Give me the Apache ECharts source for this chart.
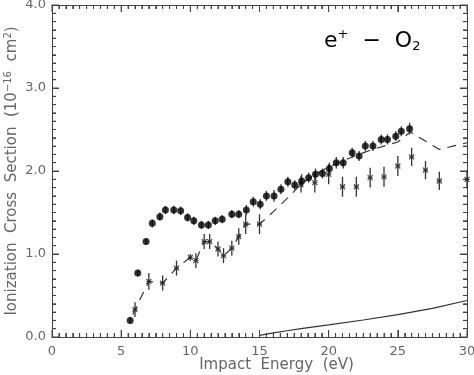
<!DOCTYPE html>
<html><head><meta charset="utf-8">
<script src="https://cdn.jsdelivr.net/npm/echarts@6/dist/echarts.min.js"></script>
<style>html,body{margin:0;padding:0;background:#fff}#c{width:474px;height:375px}</style>
</head><body><div id="c"></div>
<script>
// Filled circles (measured data)
const dotsX = [5.65,6.2,6.8,7.25,7.8,8.2,8.8,9.3,9.8,10.25,10.8,11.3,11.8,12.3,13.0,13.5,14.05,14.55,15.05,15.5,16.05,16.55,17.05,17.55,18.05,18.55,19.05,19.55,20.05,20.55,21.05,21.7,22.2,22.65,23.2,23.8,24.25,24.85,25.25,25.85];
const dotsY = [0.20,0.77,1.15,1.37,1.45,1.53,1.53,1.52,1.44,1.40,1.35,1.35,1.40,1.42,1.48,1.48,1.53,1.63,1.60,1.70,1.70,1.78,1.87,1.83,1.88,1.92,1.96,1.97,2.03,2.10,2.10,2.22,2.18,2.30,2.30,2.38,2.38,2.42,2.48,2.51];
const dotsErr = [0.04,0.04,0.04,0.05,0.05,0.05,0.05,0.05,0.05,0.05,0.05,0.05,0.05,0.05,0.05,0.05,0.06,0.06,0.06,0.06,0.07,0.06,0.06,0.06,0.08,0.06,0.07,0.06,0.07,0.07,0.07,0.06,0.06,0.06,0.06,0.06,0.06,0.06,0.06,0.07];
// Crosses with error bars
const crossX = [6,7,8,9,10,10.4,11,11.4,12,12.4,13,13.5,14,15,18,19,20,21,22,23,24,25,26,27,28,30];
const crossY = [0.33,0.67,0.65,0.83,0.96,0.92,1.15,1.15,1.06,0.98,1.07,1.21,1.36,1.36,1.84,1.86,1.96,1.81,1.81,1.92,1.93,2.06,2.17,2.01,1.88,1.90];
const crossErr = [0.09,0.1,0.09,0.09,0.04,0.09,0.09,0.09,0.09,0.09,0.09,0.1,0.12,0.12,0.1,0.12,0.12,0.12,0.12,0.12,0.12,0.12,0.11,0.11,0.11,0.11];
// Dashed curve
const dashX = [5.85,6,7,8,9,10,10.4,11,11.4,12,12.4,13,13.5,14,15,16,17,18,19,20,21,22,23,24,25,25.9,28,30];
const dashY = [0.27,0.33,0.67,0.65,0.83,0.96,0.92,1.15,1.15,1.06,0.98,1.07,1.21,1.36,1.36,1.51,1.67,1.84,1.96,2.05,2.12,2.19,2.25,2.30,2.35,2.47,2.26,2.34];
// Solid curve
const solidX = [15,16,17,18,20,22.5,25,27.5,30];
const solidY = [0.02,0.05,0.075,0.1,0.145,0.205,0.27,0.345,0.44];
// Axis ticks (labels) and minor tick steps
const xTicks = [0,5,10,15,20,25,30];
const yTicks = [0,1,2,3,4];
const xMinorStep = 0.5;
const yMinorStep = 0.1;

const zip = (a,b,c) => a.map((v,i)=> c ? [v,b[i],c[i]] : [v,b[i]]);
const FONT = 'DejaVu Sans';
const TXT = '#666';
const AX = '#444';
const X_MIN = xTicks[0], X_MAX = xTicks[xTicks.length-1];
const Y_MIN = yTicks[0], Y_MAX = yTicks[yTicks.length-1];
const MAJ = 7, MIN = 4;

// Inward tick marks, drawn as thin rect symbols on the four frame edges
const tBottom = [], tTop = [], tLeft = [], tRight = [];
for (let i = 0; i <= Math.round((X_MAX - X_MIN) / xMinorStep); i++) {
  const v = X_MIN + i * xMinorStep;
  const L = xTicks.some(t => Math.abs(t - v) < 1e-9) ? MAJ : MIN;
  tBottom.push({value:[v, Y_MIN], symbolSize:[1, L], symbolOffset:[0, -L/2]});
  tTop.push({value:[v, Y_MAX], symbolSize:[1, L], symbolOffset:[0, L/2]});
}
for (let i = 0; i <= Math.round((Y_MAX - Y_MIN) / yMinorStep); i++) {
  const v = +(Y_MIN + i * yMinorStep).toFixed(4);
  const L = yTicks.some(t => Math.abs(t - v) < 1e-9) ? MAJ : MIN;
  tLeft.push({value:[X_MIN, v], symbolSize:[L, 1], symbolOffset:[L/2, 0]});
  tRight.push({value:[X_MAX, v], symbolSize:[L, 1], symbolOffset:[-L/2, 0]});
}
const tickSeries = [tBottom, tTop, tLeft, tRight].map(d => ({
  type:'scatter', data:d, symbol:'rect', clip:false, silent:true,
  itemStyle:{color:AX, opacity:1}, z:1
}));

function errRender(params, api){
  const x = api.value(0), y = api.value(1), e = api.value(2);
  const p1 = api.coord([x, y - e]), p2 = api.coord([x, y + e]);
  return {type:'line', shape:{x1:p1[0], y1:p1[1], x2:p2[0], y2:p2[1]}, style:{stroke:'#333', lineWidth:1.3}};
}

function axisCommon(onZero){
  const line = {show:true, lineStyle:{color:AX, width:1}};
  if (onZero === false) line.onZero = false;
  return {
    axisLine:line,
    axisTick:{show:true, inside:true, length:MAJ, lineStyle:{color:AX, width:1}},
    minorTick:{show:true, splitNumber:10, length:MIN, lineStyle:{color:AX, width:1}},
    splitLine:{show:false},
    nameMoveOverlap:false
  };
}

const chart = echarts.init(document.getElementById('c'), null, {renderer:'canvas'});
chart.setOption({
  animation:false,
  backgroundColor:'#fff',
  grid:{left:52, right:7, top:5, bottom:38, containLabel:false, outerBoundsMode:'none'},
  xAxis:[
    Object.assign(axisCommon(), {type:'value', min:X_MIN, max:X_MAX, interval:5, position:'bottom',
      name:'Impact  Energy  (eV)', nameLocation:'middle', nameGap:21,
      nameTextStyle:{fontFamily:FONT, fontSize:15, color:TXT, padding:[0,0,0,34]},
      axisLabel:{fontFamily:FONT, fontSize:13, color:TXT, margin:8,
        formatter:v => xTicks.includes(v) ? String(v) : ''}}),
    Object.assign(axisCommon(false), {type:'value', min:X_MIN, max:X_MAX, interval:5, position:'top', axisLabel:{show:false}})
  ],
  yAxis:[
    Object.assign(axisCommon(), {type:'value', min:Y_MIN, max:Y_MAX, interval:1, position:'left',
      name:'Ionization  Cross  Section  ({p|10}{sup|−16}{p|  cm}{sup|2}{p|)}', nameLocation:'middle', nameGap:31,
      nameTextStyle:{fontFamily:FONT, fontSize:15, color:TXT,
        rich:{p:{fontFamily:FONT, fontSize:15, color:TXT}, sup:{fontFamily:FONT, fontSize:10, color:TXT, verticalAlign:'top', padding:[0,0,8,0]}}},
      axisLabel:{fontFamily:FONT, fontSize:13, color:TXT, margin:6,
        formatter:v => yTicks.includes(v) ? v.toFixed(1) : ''}}),
    Object.assign(axisCommon(false), {type:'value', min:Y_MIN, max:Y_MAX, interval:1, position:'right', axisLabel:{show:false}})
  ],
  graphic:[{
    type:'text', left:324, top:28,
    style:{text:'{b|e}{s|+}{b|  −  O}{d|2}', rich:{
      b:{fontFamily:FONT, fontSize:22, color:TXT},
      s:{fontFamily:FONT, fontSize:13, color:TXT, padding:[0,0,14,0]},
      d:{fontFamily:FONT, fontSize:13, color:TXT, padding:[10,0,0,0]}
    }}
  }],
  series: tickSeries.concat([
    {type:'line', data:zip(solidX, solidY), showSymbol:false, symbol:'none', smooth:false,
      lineStyle:{color:'#333', width:1.2}, z:2},
    {type:'line', data:zip(dashX, dashY), showSymbol:false, symbol:'none',
      lineStyle:{color:'#333', width:1.2, type:[9,7]}, z:2},
    {type:'custom', renderItem:errRender, data:zip(crossX, crossY, crossErr), z:3},
    {type:'custom', renderItem:errRender, data:zip(dotsX, dotsY, dotsErr), z:3},
    {type:'scatter', data:zip(crossX, crossY), symbol:'path://M0,0L10,10M10,0L0,10M0,5L10,5', symbolSize:5,
      itemStyle:{color:'none', borderColor:'#222', borderWidth:1.2}, z:4},
    {type:'scatter', data:zip(dotsX, dotsY), symbol:'circle', symbolSize:7,
      itemStyle:{color:'#000'}, z:5}
  ])
});
</script></body></html>
